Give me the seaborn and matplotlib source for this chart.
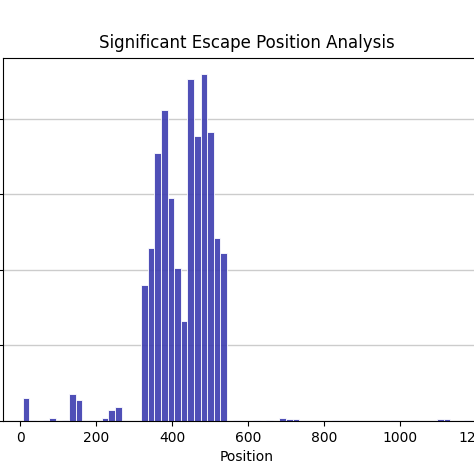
import matplotlib
matplotlib.use('Agg')
import matplotlib.pyplot as plt
import seaborn as sns
import numpy as np
import pandas as pd

# bin centres (position) and bar heights
bin_width = 17.3
first_center = 16
bin_index = [0, 1, 3, 4, 6, 7, 8, 10, 12, 13, 14,
             18, 19, 20, 21, 22, 23, 24, 25, 26, 27, 28, 29, 30,
             32, 35, 37, 39, 40, 41, 47, 56, 59, 63, 64, 67]
heights = [0.31, 0.01, 0.01, 0.045, 0.01, 0.36, 0.28, 0.01, 0.045, 0.15, 0.19,
           1.80, 2.29, 3.55, 4.11, 2.95, 2.02, 1.32, 4.52, 3.77, 4.59, 3.82, 2.42, 2.22,
           0.01, 0.01, 0.01, 0.04, 0.02, 0.02, 0.015, 0.015, 0.015, 0.02, 0.02, 0.015]

df = pd.DataFrame({
    'position': [first_center + bin_width * i for i in bin_index],
    'count': heights,
})
edges = list(first_center - bin_width / 2 + bin_width * np.arange(75))

fig = plt.figure(figsize=(4.74, 4.74), dpi=100)
ax = fig.add_axes([3 / 474, 53 / 474, 1.03, 363 / 474])
ax.set_axisbelow(True)
ax.grid(axis='y', color='#cccccc', linewidth=1)
sns.histplot(data=df, x='position', weights='count', bins=edges, color='#3c3cb0',
             alpha=0.9, edgecolor='white', linewidth=0.6, ax=ax)

ax.set_xlim(-45, 1239)
ax.set_ylim(0, 4.8)
ax.set_yticks([0, 1, 2, 3, 4])
ax.set_xticks(range(0, 1201, 200))
ax.set_xlabel('Position')
ax.set_ylabel('')
fig.text(247 / 474, 1 - 43 / 474, 'Significant Escape Position Analysis',
         ha='center', va='center', fontsize=12)
fig.savefig('out.png', dpi=100)
